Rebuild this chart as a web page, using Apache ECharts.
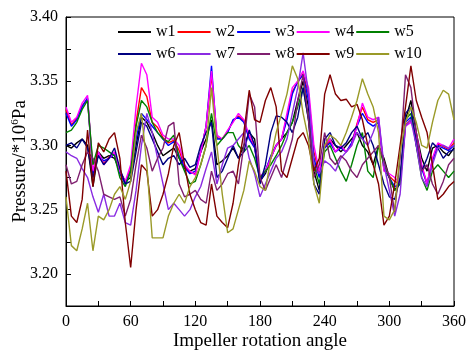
<!DOCTYPE html>
<html>
<head>
<meta charset="utf-8">
<style>
  html, body { margin: 0; padding: 0; background: #fff; }
  #main { width: 474px; height: 354px; }
</style>
<script src="https://cdn.jsdelivr.net/npm/echarts@6/dist/echarts.min.js"></script>
</head>
<body>
<div id="main"></div>
<script type="text/javascript">
// impeller angle (deg)
var angles = [0,5,10,15,20,25,30,35,40,45,50,55,60,65,70,75,80,85,90,95,100,105,110,115,120,125,130,135,140,145,150,155,160,165,170,175,180,185,190,195,200,205,210,215,220,225,230,235,240,245,250,255,260,265,270,275,280,285,290,295,300,305,310,315,320,325,330,335,340,345,350,355,360];

var names = ['w1','w2','w3','w4','w5','w6','w7','w8','w9','w10'];
var colors = ['#000000','#ff0000','#0000ff','#ff00ff','#008000','#000080','#8a2be2','#7f1f6f','#800000','#9a9a28'];

// pressure, *10^6 Pa
var w1 = [3.300,3.298,3.302,3.305,3.300,3.268,3.295,3.290,3.292,3.290,3.280,3.272,3.275,3.300,3.322,3.318,3.310,3.300,3.292,3.295,3.298,3.290,3.282,3.280,3.282,3.295,3.305,3.320,3.285,3.288,3.292,3.298,3.290,3.300,3.310,3.305,3.272,3.278,3.290,3.300,3.305,3.310,3.318,3.335,3.350,3.330,3.280,3.265,3.300,3.305,3.300,3.295,3.300,3.305,3.310,3.300,3.295,3.285,3.300,3.290,3.275,3.265,3.272,3.320,3.335,3.310,3.290,3.280,3.298,3.300,3.295,3.292,3.298];
var w2 = [3.328,3.316,3.321,3.331,3.336,3.280,3.294,3.286,3.291,3.294,3.279,3.271,3.282,3.318,3.345,3.338,3.318,3.314,3.306,3.302,3.304,3.296,3.284,3.279,3.278,3.295,3.315,3.355,3.306,3.305,3.311,3.319,3.323,3.319,3.306,3.299,3.274,3.280,3.291,3.300,3.305,3.322,3.342,3.349,3.356,3.340,3.295,3.278,3.299,3.303,3.295,3.299,3.295,3.301,3.317,3.330,3.320,3.318,3.320,3.281,3.276,3.272,3.270,3.316,3.320,3.308,3.284,3.270,3.289,3.301,3.299,3.297,3.302];
var w3 = [3.325,3.315,3.320,3.330,3.337,3.278,3.293,3.288,3.290,3.293,3.278,3.270,3.280,3.305,3.325,3.320,3.315,3.310,3.305,3.300,3.303,3.292,3.283,3.278,3.280,3.295,3.315,3.362,3.305,3.305,3.310,3.320,3.322,3.318,3.305,3.298,3.272,3.280,3.292,3.300,3.305,3.320,3.340,3.350,3.355,3.335,3.290,3.275,3.298,3.302,3.295,3.298,3.295,3.302,3.315,3.325,3.318,3.315,3.318,3.282,3.275,3.268,3.270,3.318,3.322,3.305,3.282,3.270,3.288,3.300,3.298,3.296,3.300];
var w4 = [3.330,3.318,3.322,3.333,3.339,3.280,3.295,3.285,3.290,3.295,3.280,3.272,3.285,3.330,3.364,3.355,3.322,3.318,3.308,3.305,3.305,3.300,3.285,3.280,3.277,3.295,3.315,3.358,3.308,3.305,3.312,3.318,3.325,3.320,3.308,3.300,3.276,3.280,3.290,3.300,3.305,3.325,3.345,3.350,3.358,3.345,3.300,3.280,3.300,3.305,3.295,3.300,3.295,3.300,3.315,3.333,3.322,3.320,3.322,3.280,3.278,3.275,3.270,3.315,3.318,3.310,3.285,3.270,3.290,3.302,3.300,3.298,3.305];
var w5 = [3.310,3.312,3.318,3.328,3.335,3.285,3.300,3.298,3.295,3.292,3.275,3.268,3.280,3.315,3.335,3.330,3.318,3.310,3.305,3.303,3.308,3.290,3.280,3.270,3.272,3.285,3.300,3.325,3.300,3.305,3.310,3.310,3.300,3.295,3.300,3.290,3.275,3.280,3.285,3.292,3.300,3.310,3.318,3.330,3.345,3.320,3.285,3.270,3.295,3.300,3.290,3.280,3.272,3.285,3.300,3.310,3.280,3.275,3.300,3.285,3.275,3.265,3.270,3.320,3.325,3.300,3.275,3.265,3.280,3.285,3.280,3.275,3.280];
var w6 = [3.300,3.302,3.298,3.305,3.298,3.275,3.292,3.285,3.290,3.298,3.282,3.270,3.272,3.295,3.318,3.315,3.305,3.295,3.285,3.290,3.292,3.285,3.290,3.283,3.285,3.300,3.310,3.318,3.275,3.280,3.290,3.300,3.290,3.295,3.312,3.300,3.270,3.285,3.310,3.323,3.322,3.318,3.310,3.322,3.345,3.320,3.270,3.262,3.305,3.310,3.300,3.298,3.302,3.310,3.315,3.305,3.310,3.300,3.285,3.270,3.260,3.258,3.275,3.325,3.330,3.300,3.280,3.290,3.302,3.298,3.290,3.295,3.297];
var w7 = [3.295,3.292,3.290,3.282,3.275,3.260,3.248,3.262,3.245,3.245,3.255,3.240,3.238,3.265,3.300,3.325,3.310,3.290,3.270,3.250,3.255,3.250,3.245,3.250,3.260,3.268,3.282,3.295,3.270,3.285,3.298,3.300,3.305,3.310,3.290,3.278,3.260,3.270,3.280,3.290,3.295,3.305,3.325,3.345,3.372,3.340,3.285,3.278,3.288,3.285,3.280,3.290,3.295,3.300,3.310,3.305,3.300,3.310,3.322,3.285,3.265,3.245,3.262,3.315,3.320,3.300,3.275,3.268,3.285,3.298,3.300,3.298,3.300];
var w8 = [3.285,3.270,3.272,3.285,3.295,3.290,3.280,3.262,3.260,3.258,3.260,3.245,3.258,3.285,3.308,3.298,3.280,3.290,3.298,3.315,3.318,3.270,3.260,3.262,3.265,3.258,3.255,3.280,3.265,3.270,3.278,3.280,3.270,3.300,3.340,3.330,3.275,3.265,3.275,3.285,3.275,3.290,3.305,3.335,3.355,3.320,3.275,3.285,3.310,3.290,3.285,3.292,3.288,3.280,3.275,3.285,3.290,3.295,3.300,3.288,3.275,3.248,3.290,3.355,3.345,3.310,3.280,3.285,3.270,3.262,3.272,3.285,3.290];
var w9 = [3.280,3.245,3.240,3.258,3.312,3.268,3.302,3.295,3.305,3.310,3.290,3.240,3.205,3.250,3.285,3.280,3.245,3.250,3.262,3.278,3.300,3.310,3.285,3.262,3.250,3.240,3.238,3.270,3.245,3.240,3.236,3.255,3.285,3.310,3.343,3.320,3.318,3.335,3.345,3.330,3.280,3.275,3.290,3.305,3.310,3.300,3.280,3.290,3.340,3.355,3.340,3.335,3.336,3.330,3.332,3.320,3.300,3.285,3.270,3.238,3.245,3.270,3.300,3.330,3.362,3.335,3.322,3.310,3.285,3.258,3.262,3.268,3.272];
var w10 = [3.260,3.222,3.218,3.235,3.255,3.218,3.245,3.242,3.250,3.262,3.268,3.258,3.272,3.310,3.325,3.285,3.228,3.228,3.228,3.245,3.255,3.262,3.255,3.268,3.275,3.285,3.300,3.345,3.300,3.262,3.232,3.235,3.250,3.265,3.288,3.280,3.268,3.265,3.290,3.310,3.325,3.340,3.362,3.352,3.325,3.305,3.270,3.255,3.300,3.308,3.305,3.300,3.310,3.322,3.335,3.352,3.340,3.330,3.310,3.245,3.242,3.250,3.295,3.318,3.330,3.318,3.300,3.298,3.318,3.335,3.343,3.340,3.320];

var values = [w1, w2, w3, w4, w5, w6, w7, w8, w9, w10];
var xTicks = [0, 60, 120, 180, 240, 300, 360];

var font = '"Liberation Serif", "Times New Roman", serif';

var series = [];
for (var s = 0; s < names.length; s++) {
    var pts = [];
    for (var i = 0; i < angles.length; i++) {
        pts.push([angles[i], values[s][i]]);
    }
    series.push({
        name: names[s],
        type: 'line',
        data: pts,
        symbol: 'none',
        animation: false,
        lineStyle: { width: 1.4, color: colors[s] },
        itemStyle: { color: colors[s] }
    });
}

var legendText = { fontFamily: font, fontSize: 16, color: '#000' };

var myChart = echarts.init(document.getElementById('main'));
var option = {
    backgroundColor: '#fff',
    animation: false,
    grid: {
        left: 66, right: 20, top: 17, bottom: 48,
        outerBoundsMode: 'none', containLabel: false,
        show: true, borderColor: '#000', borderWidth: 1
    },
    legend: [
        { data: names.slice(0, 5), left: 113, top: 19, icon: 'rect', itemWidth: 33, itemHeight: 2, itemGap: 2, textStyle: legendText },
        { data: names.slice(5), left: 113, top: 41, icon: 'rect', itemWidth: 33, itemHeight: 2, itemGap: 2, textStyle: legendText }
    ],
    xAxis: {
        type: 'value', min: 0, max: 360, interval: 30,
        name: 'Impeller rotation angle', nameLocation: 'middle', nameGap: 26,
        nameMoveOverlap: false,
        nameTextStyle: { fontFamily: font, fontSize: 19, color: '#000' },
        axisLine: { lineStyle: { color: '#000', width: 1 } },
        axisTick: { inside: true, length: 5, lineStyle: { color: '#000' } },
        axisLabel: {
            fontFamily: font, fontSize: 16, color: '#000', margin: 8,
            formatter: function (v) { return xTicks.indexOf(v) >= 0 ? String(v) : ''; }
        },
        splitLine: { show: false }
    },
    yAxis: {
        type: 'value', min: 3.175, max: 3.40, interval: 0.025,
        name: 'Pressure/*10{sup|6}Pa', nameLocation: 'middle', nameGap: 36,
        nameMoveOverlap: false,
        nameTextStyle: {
            fontFamily: font, fontSize: 19, color: '#000',
            rich: { sup: { fontFamily: font, fontSize: 11, color: '#000', verticalAlign: 'top', padding: [0, 0, 9, 0] } }
        },
        axisLine: { show: true, lineStyle: { color: '#000', width: 1 } },
        axisTick: { show: true, inside: true, length: 5, lineStyle: { color: '#000' } },
        axisLabel: {
            fontFamily: font, fontSize: 16, color: '#000', margin: 8,
            formatter: function (v) {
                var k = Math.round(v * 1000);
                return (k % 50 === 0 && k >= 3200) ? v.toFixed(2) : '';
            }
        },
        splitLine: { show: false }
    },
    series: series
};
myChart.setOption(option);
</script>
</body>
</html>
